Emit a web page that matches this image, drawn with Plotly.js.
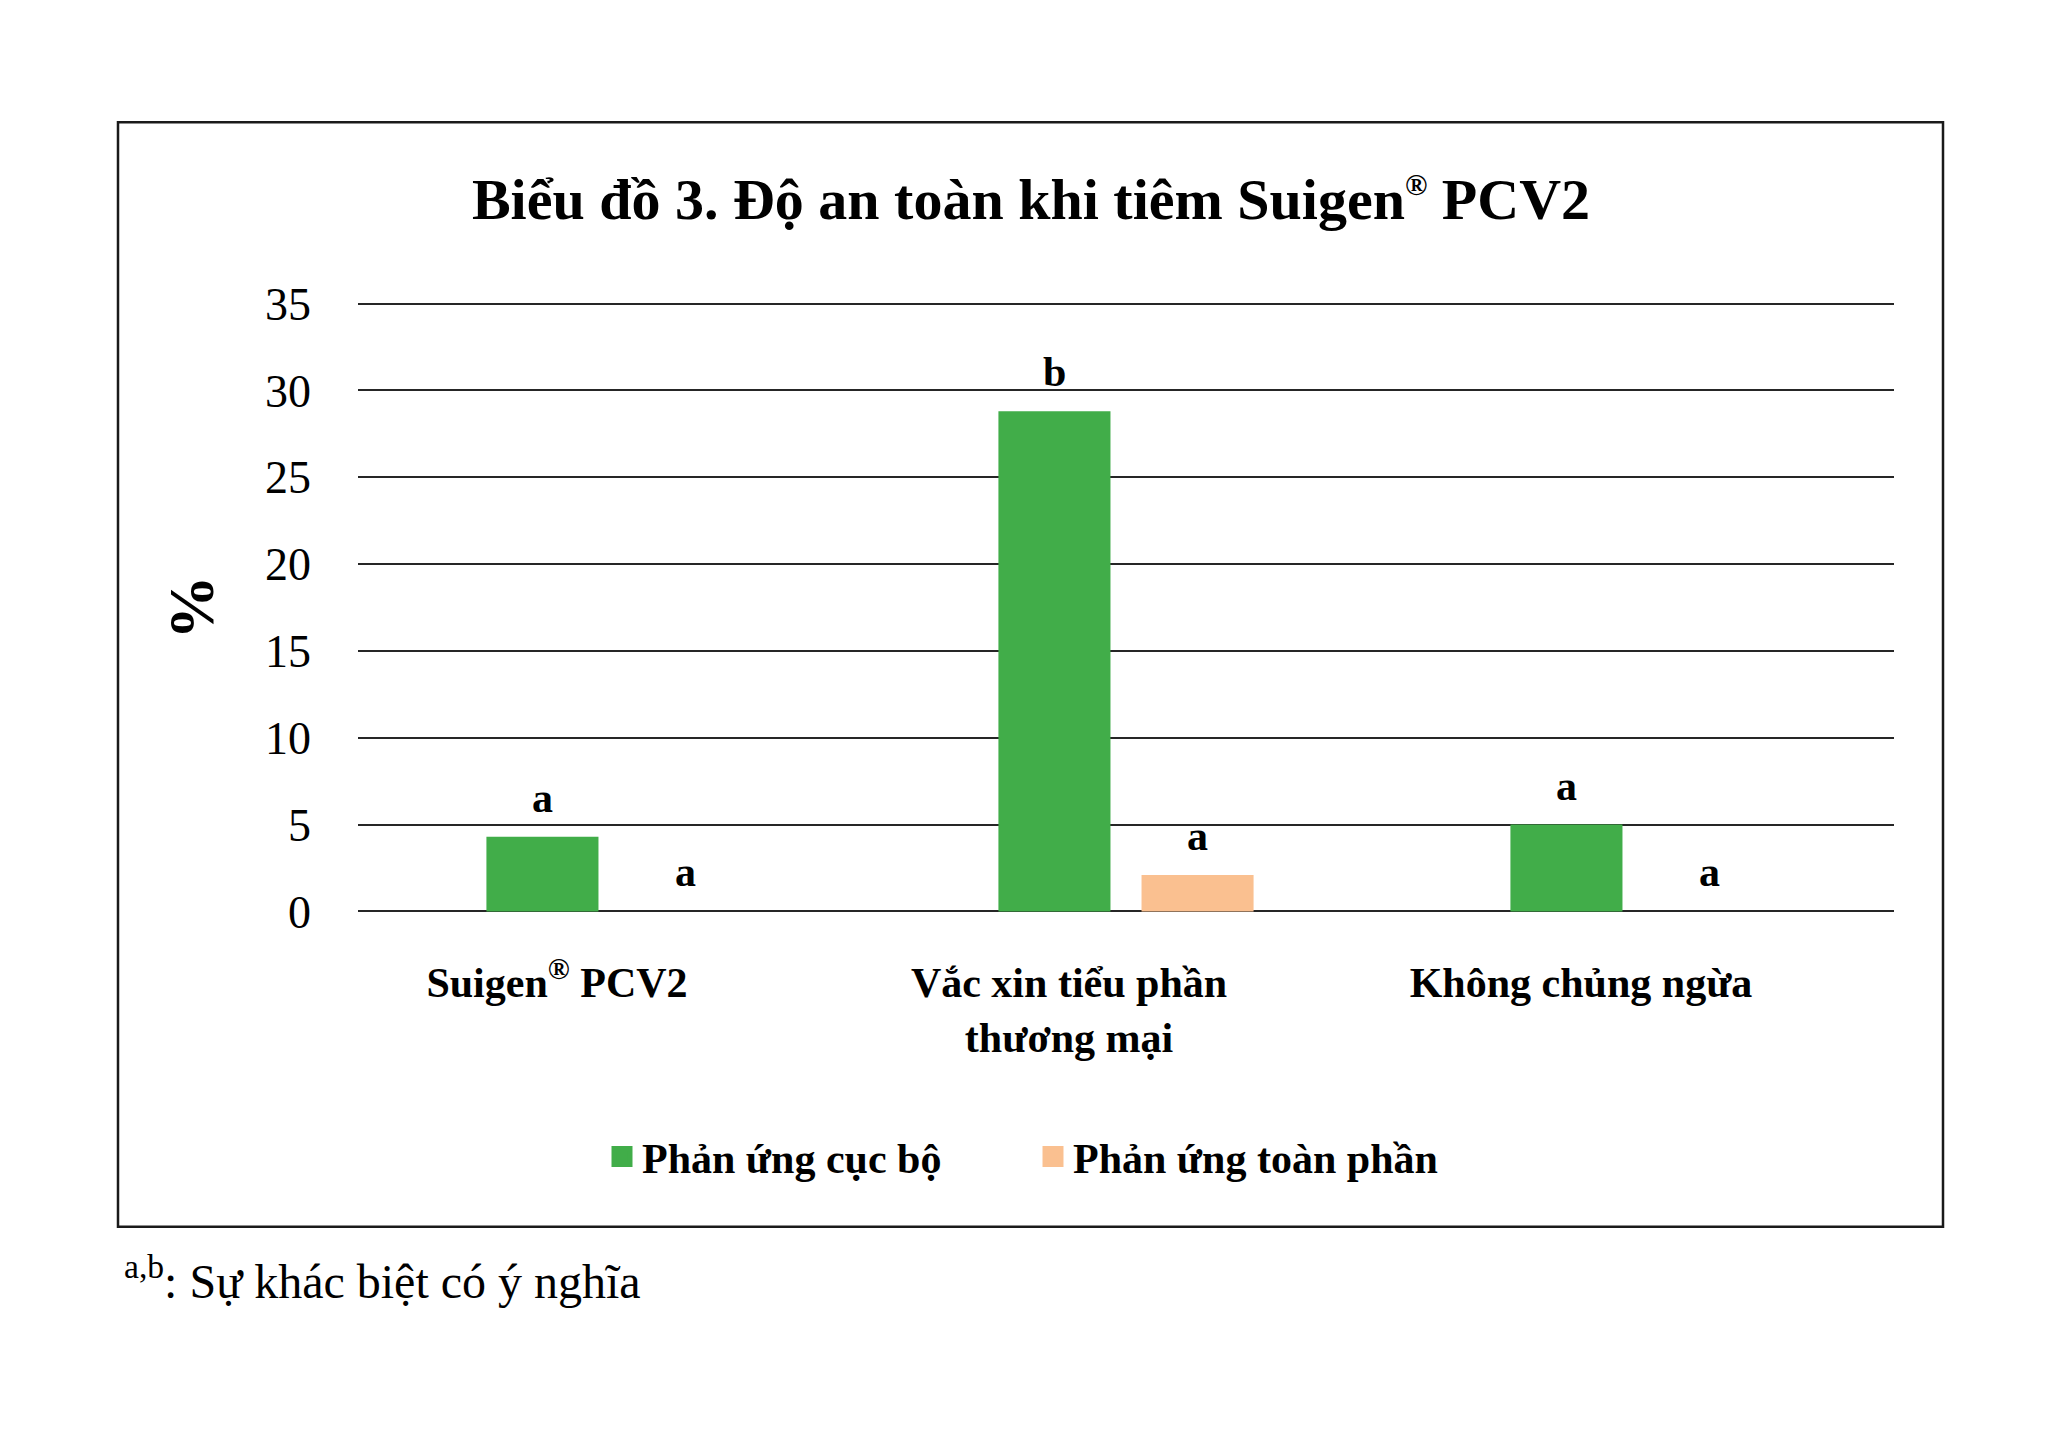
<!DOCTYPE html>
<html>
<head>
<meta charset="utf-8">
<script src="https://cdn.plot.ly/plotly-3.0.1.min.js"></script>
<style>
  html, body { margin: 0; padding: 0; background: #ffffff; }
  #chart { width: 2048px; height: 1448px; }
</style>
</head>
<body>
<div id="chart"></div>
<script>
// ---- data ----
const categories = ['Suigen<sup>®</sup> PCV2', 'Vắc xin tiểu phần<br>thương mại', 'Không chủng ngừa'];
const seriesNames = ['Phản ứng cục bộ', 'Phản ứng toàn phần'];
const localReaction = [4.3, 28.8, 5.0];
const systemicReaction = [0, 2.1, 0];
const localLetters = ['a', 'b', 'a'];
const systemicLetters = ['a', 'a', 'a'];
const yTickValues = [0, 5, 10, 15, 20, 25, 30, 35];

const FONT = '"Liberation Serif", "Times New Roman", Times, serif';
const GREEN = '#41AD49';
const ORANGE = '#FAC090';
const seriesColors = [GREEN, ORANGE];
const seriesValues = [localReaction, systemicReaction];
const seriesLetters = [localLetters, systemicLetters];

const W = 2048, H = 1448;
// plot area: y=0 at 911px, y=35 at 304px; range padded slightly so edge gridlines are drawn
const PAD = 0.15;
const unitPx = (911 - 304) / 35;
const M = { l: 358, r: 154, t: 304 - PAD * unitPx, b: 537 - PAD * unitPx };
const plotW = W - M.l - M.r, plotH = H - M.t - M.b;
const px2x = p => (p - M.l) / plotW;
const px2y = p => (H - M.b - p) / plotH;

const BARGAP = 0.441, BARGROUPGAP = 0.217;
const slotPx = plotW / categories.length * (1 - BARGAP) / seriesNames.length;

const labelFont = { family: FONT, size: 42, weight: 'bold', color: '#000' };

const traces = seriesNames.map((nm, s) => ({
  type: 'bar', name: nm, x: categories, y: seriesValues[s],
  marker: { color: seriesColors[s] }, showlegend: false,
  hoverinfo: 'x+y'
}));
// legend entries (square swatches) for the two series
seriesNames.forEach((nm, i) => {
  traces.push({
    type: 'scatter', mode: 'markers', name: nm, x: [null], y: [null],
    marker: { symbol: 'square', size: 16, color: seriesColors[i], line: { color: seriesColors[i], width: 5 } },
    hoverinfo: 'skip', showlegend: true
  });
});

// significance letters above each bar
const letterAnnotations = [];
seriesNames.forEach((nm, s) => {
  categories.forEach((c, i) => {
    letterAnnotations.push({
      xref: 'x', yref: 'y', x: c, y: seriesValues[s][i],
      xshift: (s - (seriesNames.length - 1) / 2) * slotPx,
      yshift: 14, yanchor: 'bottom', xanchor: 'center',
      text: seriesLetters[s][i], showarrow: false,
      font: labelFont
    });
  });
});

const layout = {
  width: W, height: H,
  margin: M,
  paper_bgcolor: '#ffffff', plot_bgcolor: '#ffffff',
  font: { family: FONT, color: '#000' },
  title: {
    text: 'Biểu đồ 3. Độ an toàn khi tiêm Suigen<sup><span style="font-size:30px">®</span></sup> PCV2',
    font: { family: FONT, size: 58, weight: 'bold', color: '#000' },
    xref: 'container', x: 1031 / W, xanchor: 'center',
    yref: 'container', y: 1 - 199 / H, yanchor: 'middle'
  },
  barmode: 'group',
  bargap: BARGAP,
  bargroupgap: BARGROUPGAP,
  showlegend: true,
  legend: {
    orientation: 'h', x: px2x(602), xanchor: 'left',
    y: px2y(1156), yanchor: 'middle',
    font: labelFont,
    traceorder: 'normal', itemwidth: 30, entrywidth: 386, entrywidthmode: 'pixels',
    bgcolor: 'rgba(0,0,0,0)'
  },
  xaxis: {
    type: 'category',
    showgrid: false, zeroline: false, showline: false,
    ticks: '', ticklabelstandoff: 40, ticklabelshift: -57,
    tickfont: labelFont,
    fixedrange: true
  },
  yaxis: {
    range: [-PAD, 35 + PAD], tickvals: yTickValues,
    showgrid: true, gridcolor: '#262626', gridwidth: 2,
    zeroline: false, showline: false,
    ticks: '', ticklabelstandoff: 46,
    tickfont: { family: FONT, size: 46, color: '#000' },
    title: { text: '%', font: { family: FONT, size: 64, weight: 'bold', color: '#000' }, standoff: 30 },
    fixedrange: true
  },
  shapes: [
    {
      type: 'rect', xref: 'paper', yref: 'paper',
      x0: px2x(118), x1: px2x(1943), y0: px2y(1226), y1: px2y(123),
      line: { color: '#1a1a1a', width: 2.5 }, fillcolor: 'rgba(0,0,0,0)', layer: 'below'
    }
  ],
  annotations: letterAnnotations.concat([
    {
      xref: 'paper', yref: 'paper',
      x: px2x(122), xanchor: 'left',
      y: px2y(1277), yanchor: 'middle',
      text: '<sup>a,b</sup>: Sự khác biệt có ý nghĩa',
      showarrow: false,
      font: { family: FONT, size: 48, color: '#000' }
    }
  ])
};

Plotly.newPlot('chart', traces, layout, { displayModeBar: false, responsive: false });
</script>
</body>
</html>
